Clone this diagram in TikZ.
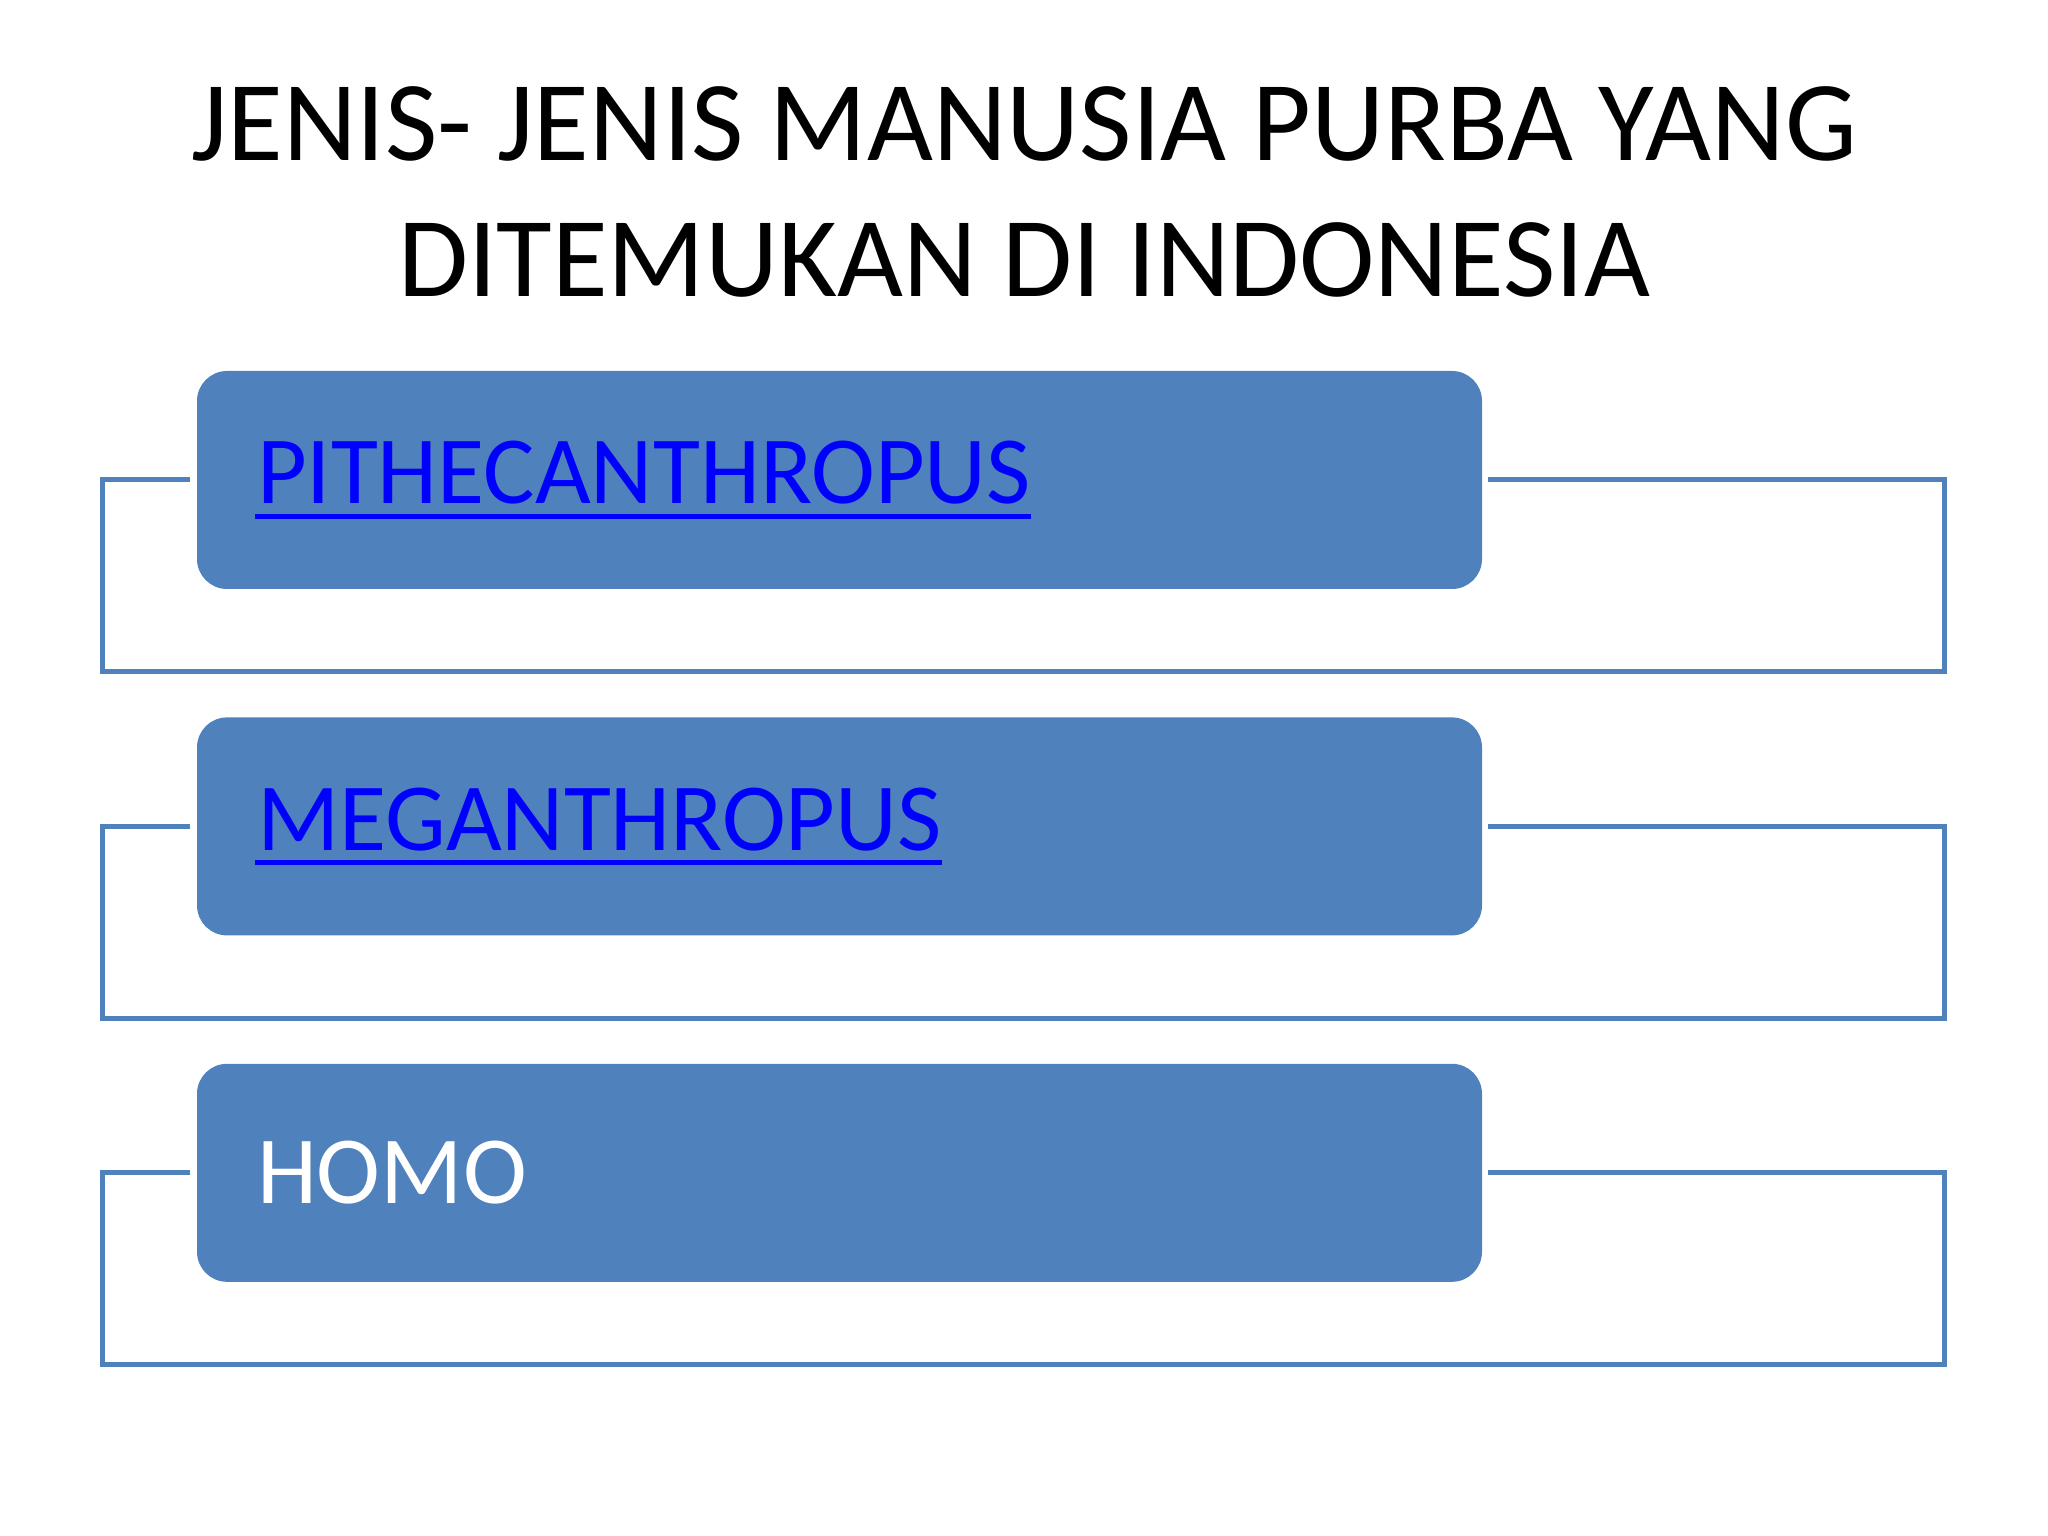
\documentclass[tikz,border=0pt]{standalone}
\usepackage{fontspec}
\setmainfont{Carlito}
\usetikzlibrary{positioning}
\definecolor{boxblue}{HTML}{4F81BD}
\definecolor{linkblue}{HTML}{0000FF}
\newcommand{\linkline}[1]{\setbox0\hbox{#1}\rlap{\hspace{-0.02cm}\raisebox{-0.15cm}{\rule{\dimexpr\wd0+0.02cm\relax}{0.05cm}}}\box0}
\begin{document}
\begin{tikzpicture}[
  title/.style={align=center, font=\fontsize{32.4}{38.7}\selectfont, text=black},
  species/.style={rectangle, fill=boxblue, rounded corners=0.3cm, minimum width=12.85cm, minimum height=2.18cm, text width=11.65cm, inner xsep=0.6cm, align=left, font=\fontsize{27.4}{33}\selectfont},
  bracket/.style={draw=boxblue, line width=0.05cm}
]
  \useasboundingbox (0,0) rectangle (20.48,-15.36);
  \node[title] (head) at (10.24,-1.92) {JENIS- JENIS MANUSIA PURBA YANG\\DITEMUKAN DI INDONESIA};

  \node[species, text=linkblue] (pith) at (8.395,-4.80) {\linkline{PITHECANTHROPUS}};
  \node[species, text=linkblue, below=1.27cm of pith] (mega) {\linkline{MEGANTHROPUS}};
  \node[species, text=white, below=1.27cm of mega] (homo) {HOMO};

  \foreach \n in {pith,mega,homo}
    \draw[bracket] ([xshift=-0.06cm]\n.west) -- ++(-0.88,0) -- ++(0,-1.92) -- ++(18.42,0) -- ++(0,1.92) -- ([xshift=0.05cm]\n.east);
\end{tikzpicture}
\end{document}
